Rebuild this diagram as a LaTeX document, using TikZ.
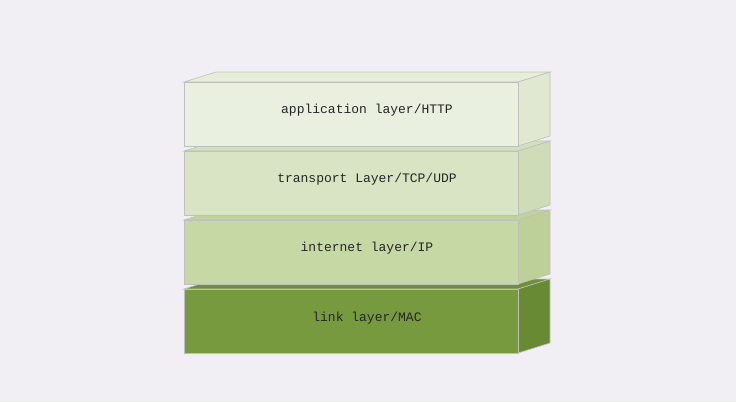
\documentclass[tikz,border=0pt]{standalone}
\usepackage{fontspec}
\setmainfont{Liberation Mono}
\begin{document}
\begin{tikzpicture}[x=1pt,y=-1pt,
  edge/.style={draw=black!25,line width=0.6pt},
  lbl/.style={font=\fontsize{13}{15}\selectfont,text=black!85}]
\fill[fill={rgb,255:red,241;green,239;blue,244}] (0,0) rectangle (736,402);
\useasboundingbox (0,0) rectangle (736,402);
\definecolor{fa}{RGB}{234,240,223}\definecolor{sa}{RGB}{224,232,210}\definecolor{ta}{RGB}{230,237,217}
\definecolor{fb}{RGB}{217,228,197}\definecolor{sb}{RGB}{206,220,183}\definecolor{tb}{RGB}{211,224,190}
\definecolor{fc}{RGB}{198,216,164}\definecolor{sc}{RGB}{188,208,152}\definecolor{tc}{RGB}{192,211,157}
\definecolor{fd}{RGB}{120,154,63}\definecolor{sd}{RGB}{104,138,52}\definecolor{td}{RGB}{110,144,56}
\foreach \t/\b/\f/\s/\tp in {289/353/fd/sd/td,220/284/fc/sc/tc,151/215/fb/sb/tb,82/146/fa/sa/ta}{
  \filldraw[edge,fill=\tp] (184,\t) -- (216,\t-10) -- (550,\t-10) -- (518,\t) -- cycle;
  \filldraw[edge,fill=\s] (518,\t) -- (550,\t-10) -- (550,\b-10) -- (518,\b) -- cycle;
  \filldraw[edge,fill=\f] (184,\t) rectangle (518,\b);
}
\node[lbl] (l1) at (367,110) {application layer/HTTP};
\node[lbl] (l2) at (367,179) {transport Layer/TCP/UDP};
\node[lbl] (l3) at (367,248) {internet layer/IP};
\node[lbl] (l4) at (367,318) {link layer/MAC};
\end{tikzpicture}
\end{document}
